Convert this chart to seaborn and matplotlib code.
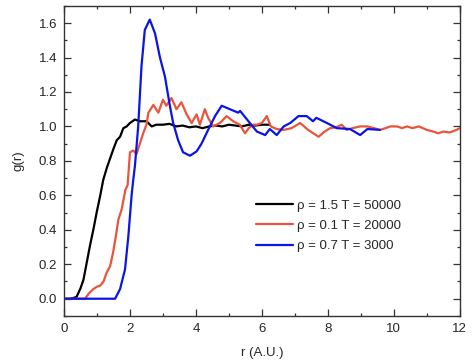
import numpy as np
import pandas as pd
import matplotlib
matplotlib.use("Agg")
import matplotlib.pyplot as plt
import seaborn as sns
from matplotlib.ticker import MultipleLocator

labels = ["ρ = 1.5 T = 50000", "ρ = 0.1 T = 20000", "ρ = 0.7 T = 3000"]
colors = ["#000000", "#e8553c", "#0a14e6"]

r_black = [0.0, 0.2, 0.38, 0.5, 0.59, 0.7, 0.79, 0.9, 0.99, 1.1, 1.19, 1.3, 1.39, 1.5, 1.6, 1.7, 1.8, 1.9, 2.0, 2.15, 2.3, 2.5, 2.66, 2.8, 3.0, 3.2, 3.4, 3.6, 3.8, 4.0, 4.2, 4.4, 4.6, 4.8, 5.0, 5.2, 5.4, 5.6, 5.8, 6.0, 6.24]
g_black = [0.0, 0.0, 0.01, 0.06, 0.11, 0.22, 0.31, 0.41, 0.50, 0.60, 0.69, 0.76, 0.81, 0.87, 0.92, 0.94, 0.99, 1.0, 1.02, 1.04, 1.03, 1.03, 1.00, 1.01, 1.01, 1.015, 1.0, 1.005, 0.995, 1.0, 0.99, 1.0, 1.005, 1.0, 1.01, 1.005, 1.0, 1.01, 1.005, 1.01, 1.01]

r_red = [0.0, 0.64, 0.75, 0.89, 1.0, 1.09, 1.2, 1.29, 1.4, 1.49, 1.57, 1.65, 1.75, 1.86, 1.93, 2.0, 2.1, 2.2, 2.3, 2.4, 2.5, 2.56, 2.71, 2.86, 3.0, 3.1, 3.26, 3.41, 3.56, 3.72, 3.87, 4.02, 4.12, 4.27, 4.37, 4.52, 4.73, 4.93, 5.13, 5.33, 5.49, 5.6, 5.74, 5.85, 6.0, 6.15, 6.27, 6.45, 6.66, 6.9, 7.16, 7.4, 7.6, 7.72, 7.9, 8.07, 8.25, 8.42, 8.57, 8.75, 8.98, 9.2, 9.4, 9.58, 9.75, 9.89, 10.1, 10.25, 10.4, 10.56, 10.76, 11.0, 11.2, 11.35, 11.5, 11.7, 11.9, 12.0]
g_red = [0.0, 0.0, 0.03, 0.056, 0.07, 0.075, 0.10, 0.15, 0.19, 0.27, 0.36, 0.46, 0.52, 0.63, 0.66, 0.85, 0.86, 0.84, 0.90, 0.96, 1.01, 1.08, 1.125, 1.08, 1.155, 1.12, 1.165, 1.10, 1.14, 1.07, 1.02, 1.07, 1.01, 1.10, 1.05, 1.0, 1.02, 1.06, 1.03, 1.01, 0.96, 0.99, 1.01, 1.01, 1.02, 1.06, 1.0, 0.985, 0.98, 0.99, 1.02, 0.98, 0.955, 0.94, 0.97, 0.99, 0.995, 1.01, 0.98, 0.99, 1.0, 1.0, 0.99, 0.98, 0.99, 1.0, 1.0, 0.99, 1.0, 0.99, 1.0, 0.98, 0.97, 0.96, 0.97, 0.965, 0.98, 0.99]

r_blue = [0.0, 1.0, 1.55, 1.7, 1.85, 1.95, 2.05, 2.1, 2.15, 2.25, 2.35, 2.45, 2.6, 2.76, 2.91, 3.06, 3.21, 3.31, 3.46, 3.61, 3.82, 4.02, 4.17, 4.37, 4.58, 4.78, 5.03, 5.28, 5.34, 5.55, 5.85, 6.1, 6.24, 6.45, 6.66, 6.86, 7.11, 7.36, 7.55, 7.65, 7.97, 8.27, 8.67, 8.98, 9.2, 9.58]
g_blue = [0.0, 0.0, 0.0, 0.056, 0.17, 0.36, 0.6, 0.69, 0.77, 1.0, 1.35, 1.56, 1.62, 1.54, 1.40, 1.29, 1.12, 1.02, 0.92, 0.85, 0.83, 0.855, 0.90, 0.98, 1.06, 1.12, 1.10, 1.08, 1.09, 1.04, 0.97, 0.95, 0.985, 0.95, 1.0, 1.02, 1.06, 1.06, 1.03, 1.05, 1.02, 0.99, 0.985, 0.95, 0.985, 0.98]

frames = []
for lab, rr, gg in zip(labels, [r_black, r_red, r_blue], [g_black, g_red, g_blue]):
    frames.append(pd.DataFrame({"r": rr, "g": gg, "series": lab}))
df = pd.concat(frames, ignore_index=True)

sns.set_style("ticks")
plt.rcParams["font.family"] = ["Liberation Sans", "DejaVu Sans"]

FS = 9.5
fig = plt.figure(figsize=(4.74, 3.64), dpi=100)
ax = fig.add_axes([0.135, 0.132, 0.835, 0.852])
sns.lineplot(data=df, x="r", y="g", hue="series", hue_order=labels,
             palette=dict(zip(labels, colors)), linewidth=1.6, ax=ax,
             sort=False, estimator=None)

ax.set_xlim(0, 12)
ax.set_ylim(-0.1, 1.7)
ax.xaxis.set_major_locator(MultipleLocator(2))
ax.xaxis.set_minor_locator(MultipleLocator(1))
ax.set_yticks(np.arange(0, 1.61, 0.2))
ax.yaxis.set_minor_locator(MultipleLocator(0.1))
ax.yaxis.set_major_formatter(matplotlib.ticker.FormatStrFormatter("%.1f"))
ax.tick_params(which="both", direction="in", top=True, right=True,
               labelsize=FS, color="#333333", width=0.9)
ax.tick_params(which="major", length=5, pad=5)
ax.tick_params(which="minor", length=2.5)
for s in ax.spines.values():
    s.set_color("#333333")
    s.set_linewidth(1.0)
ax.set_xlabel("r (A.U.)", fontsize=FS, labelpad=9)
ax.set_ylabel("g(r)", fontsize=FS, labelpad=10)

leg = ax.legend(loc="upper left", bbox_to_anchor=(0.485, 0.375), frameon=False,
                fontsize=FS, handlelength=2.8, handletextpad=0.3,
                labelspacing=0.6, borderaxespad=0, borderpad=0)

fig.savefig("out.png", dpi=100)
